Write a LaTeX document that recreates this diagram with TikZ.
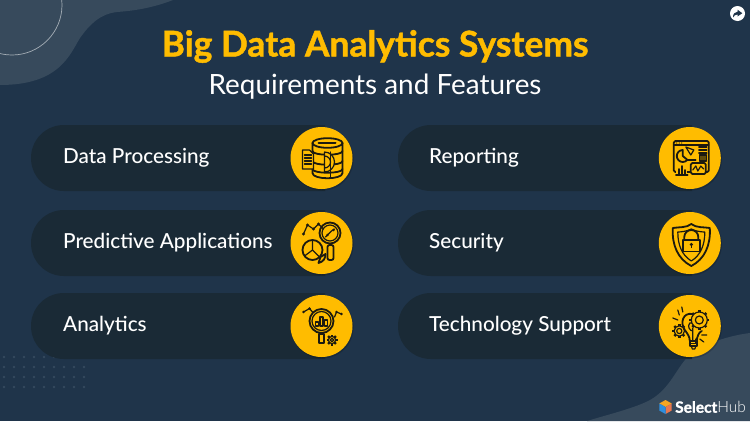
\documentclass[tikz,border=0pt]{standalone}
\usepackage{fontspec}
\setmainfont{Lato}
\newfontfamily\titlefont[FakeBold=1.3]{Lato Bold}
\newfontfamily\labelfont{Lato Medium}
\definecolor{bgc}{HTML}{1F344A}
\definecolor{blobc}{HTML}{374A5C}
\definecolor{pillc}{HTML}{1A2A36}
\definecolor{ambc}{HTML}{FFBC00}
\definecolor{inkc}{HTML}{1C1A10}
\definecolor{dotc}{HTML}{34495E}
\definecolor{logoa}{HTML}{F5A623}
\definecolor{logob}{HTML}{E8774F}
\definecolor{logoc}{HTML}{2D8FE0}
\tikzset{
  x=1pt,y=-1pt,
  label/.style={anchor=west,text=white,font=\labelfont\fontsize{20.7}{24}\selectfont,inner sep=0pt},
  medal/.style={circle,fill=ambc,minimum size=62pt,inner sep=0pt,draw=none},
  ink/.style={draw=inkc,line width=1.2pt,line join=round,line cap=round},
  thick ink/.style={draw=inkc,line width=1.8pt,line join=round,line cap=round},
  blob/.style={fill=blobc,draw=none},
  pics/cog/.style={code={
    \foreach \a in {0,45,...,315}{\draw[inkc,line width=2.4pt] (\a:#1) -- (\a:#1+1.9);}
    \draw[ink,fill=ambc] (0,0) circle[radius=#1];
    \draw[ink] (0,0) circle[radius=#1*0.5];
  }},
}
\begin{document}
\begin{tikzpicture}
\useasboundingbox (0,0) rectangle (750,421);
\fill[bgc] (0,0) rectangle (750,421);
% blobs
\path[blob] (0,0) -- (173,0) .. controls (150,9) and (130,11) .. (117,12)
  .. controls (100,14) and (90,24) .. (80,38) .. controls (70,54) and (60,85) .. (0,85) -- cycle;
\begin{scope}
\clip (0,0) rectangle (750,421);
\draw[white!55!blobc,line width=0.7pt] (12,5) circle[radius=50];
\end{scope}
\path[blob] (750,421) -- (587,421) .. controls (610,414) and (635,408) .. (650,400)
  .. controls (668,390) and (675,372) .. (685,360) .. controls (695,347) and (725,336) .. (750,333) -- cycle;
% dots
\foreach \yy in {357,367,377,387}\foreach \xx in {4,14,...,84}{\fill[dotc] (\xx,\yy) circle[radius=1.3];}
% pills
\foreach \xa/\xb/\ya in {31/325/125,31/325/210,31/325/293,398/692/125,398/692/210,398/692/293}{
  \fill[pillc,rounded corners=32.9pt] (\xb,\ya) -- (\xa,\ya) -- (\xa,\ya+66) [sharp corners] -- (\xb,\ya+66) -- cycle;
}
% text
\node[anchor=center,text=ambc,font=\titlefont\fontsize{35.4}{40}\selectfont,inner sep=0pt] (title) at (375,46.5) {Big Data Analytics Systems};
\node[anchor=center,text=white,font=\fontsize{27.9}{32}\selectfont,inner sep=0pt] (sub) at (375,87) {Requirements and Features};
\node[label] (t1) at (63,158) {Data Processing};
\node[label] (t2) at (63,243) {Predictive Applications};
\node[label] (t3) at (63,326) {Analytics};
\node[label] (t4) at (429,158) {Reporting};
\node[label] (t5) at (429,243) {Security};
\node[label] (t6) at (429,326) {Technology Support};
% medals
\foreach \nm/\cx/\cy in {m1/321.5/158,m2/321.5/243,m3/321.5/326,m4/689.8/158,m5/689.8/243,m6/689.8/326}{
  \fill[black,opacity=.18] (\cx+.8,\cy+1.2) circle[radius=31.3];
  \node[medal] (\nm) at (\cx,\cy) {};
}
% icon 1: database
\begin{scope}[shift={(m1.center)}]
  \draw[thick ink] (-9,-15) -- (-9,15) .. controls (-9,22) and (21,22) .. (21,15) -- (21,-15);
  \draw[thick ink] (6,-15) ellipse[x radius=15,y radius=4.8];
  \draw[ink,line width=2pt] (-3,-15) -- (14,-15);
  \draw[thick ink] (-9,-7) .. controls (-9,-2) and (21,-2) .. (21,-7);
  \draw[thick ink] (-9,3) .. controls (-9,8) and (21,8) .. (21,3);
  \draw[thick ink] (-9,11) .. controls (-9,16) and (21,16) .. (21,11);
  \draw[ink,fill=ambc] (3,-6) arc[start angle=-90,end angle=90,radius=10] -- cycle;
  \draw[ink] (3,-2) arc[start angle=-90,end angle=90,radius=6];
  \draw[ink,line width=1.3pt] (9,-6) -- (9,20);
  \draw[ink,fill=ambc] (-19,-8) -- (-12,-8) -- (-8,-4) -- (-8,11) -- (-19,11) -- cycle;
  \foreach \yy in {-3,0,3,6}{\draw[ink] (-17,\yy) -- (-10,\yy);}
\end{scope}
% icon 2: predictive
\begin{scope}[shift={(m2.center)}]
  \draw[ink] (-18,-9) -- (-14,-18) -- (-8,-14) -- (-3,-19) -- (2,-14);
  \foreach \p in {(-18,-9),(-14,-18),(-8,-14),(-3,-19)}{\fill[inkc] \p circle[radius=1.6];}
  \draw[thick ink] (8.5,-10) circle[radius=10.5];
  \draw[ink] (8.5,-10) circle[radius=8];
  \draw[ink] (4,-6) -- (10,-12) -- (13,-14);
  \fill[inkc] (6,-8) circle[radius=1.3] (12,-13) circle[radius=1.3];
  \draw[thick ink,rounded corners=2pt] (6,2) rectangle (12,17);
  \draw[thick ink] (-9,7) circle[radius=10];
  \draw[ink] (-9,7) -- (-9,-3) (-9,7) -- (-17,13) (-9,7) -- (-2,14);
  \draw[thick ink] (-1,14) -- (4,11) .. controls (4,15) and (2,19) .. (-3,20) -- cycle;
\end{scope}
% icon 3: analytics
\begin{scope}[shift={(m3.center)}]
  \draw[thick ink] (0,-5) circle[radius=12];
  \draw[ink] (0,-5) circle[radius=9.5];
  \draw[ink] (-6,0) rectangle (-3,-4) (-1.5,0) rectangle (1.5,-9) (3,0) rectangle (6,-6);
  \draw[thick ink] (-2.5,8) rectangle (2.5,17);
  \draw[ink] (0,7) -- (0,8);
  \draw[ink] (-18,-14) -- (-12,-17.5) -- (-9,-14) ;
  \draw[ink] (13,-9) -- (15,-14) -- (20,-12);
  \fill[inkc] (-18,-14) circle[radius=1.3] (-12,-17.5) circle[radius=1.3] (15,-14) circle[radius=1.3] (20,-12) circle[radius=1.3];
  \pic at (10.5,14) {cog=3.6};
\end{scope}
% icon 4: reporting
\begin{scope}[shift={(m4.center)}]
  \draw[thick ink,rounded corners=1.5pt] (-16,-17) rectangle (19,14);
  \draw[ink] (-16,-13) -- (19,-13);
  \fill[inkc] (-13,-15) circle[radius=.6] (-10.5,-15) circle[radius=.6] (-8,-15) circle[radius=.6];
  \draw[thick ink,fill=ambc] (-7,-8) arc[start angle=-90,end angle=-320,radius=6] -- (-7,-2) -- cycle;
  \draw[ink,fill=ambc] (-4,-11) -- (4,-8) -- (1,-3) -- cycle;
  \draw[ink] (9,-11) -- (17,-11) (9,-8) -- (17,-8) (9,-5) -- (17,-5);
  \draw[ink,fill=inkc!70!ambc] (10,-3) rectangle (17,3);
  \draw[ink] (-3,2) -- (6,2);
  \draw[thick ink,fill=ambc,rounded corners=1.5pt] (1,5) rectangle (16,16);
  \draw[ink] (3,12) -- (6,8) -- (8,13) -- (11,8) -- (14,11);
  \fill[ambc] (-14,13) rectangle (-3,17);
  \draw[thick ink] (-11,17) -- (-11,11) (-8,17) -- (-8,8) (-5,17) -- (-5,12);
  \draw[ink] (-14,17) -- (-2,17);
\end{scope}
% icon 5: security
\begin{scope}[shift={(m5.center)}]
  \draw[thick ink] (1.5,-19) .. controls (-3,-15) and (-12,-16) .. (-17,-15)
    .. controls (-18,2) and (-12,16) .. (1.5,23) .. controls (15,16) and (21,2) .. (20,-15)
    .. controls (15,-16) and (6,-15) .. (1.5,-19) -- cycle;
  \draw[ink,line width=1.2pt] (1.5,-14) .. controls (-2,-12) and (-8,-11) .. (-12,-11)
    .. controls (-12,2) and (-8,12) .. (1.5,18) .. controls (11,12) and (15,2) .. (15,-11)
    .. controls (11,-11) and (5,-12) .. (1.5,-14) -- cycle;
  \draw[thick ink] (-5.5,-3) -- (-5.5,-6) arc[start angle=180,end angle=360,radius=7] -- (8.5,-3);
  \draw[thick ink,fill=ambc] (-7,-3) rectangle (10,8.5);
  \fill[inkc] (1.5,1.5) circle[radius=1.8];
  \draw[inkc,line width=1.1pt] (1.5,1.5) -- (1.5,5);
\end{scope}
% icon 6: technology
\begin{scope}[shift={(m6.center)}]
  \draw[thick ink] (3,-12) .. controls (-7,-14) and (-10,-3) .. (-5,4) .. controls (-2,8) and (0,11) .. (0,15)
     -- (7,15) .. controls (7,11) and (9,6) .. (12,5);
  \draw[thick ink] (0,15) -- (0,20) -- (7,20) -- (7,15) (0,17.5) -- (7,17.5);
  \draw[ink] (1.5,20) -- (2.5,23) -- (5,23) -- (6,20);
  \draw[ink] (3,15) -- (3,2) (6,-3) -- (0,-3) .. controls (-3,0) and (0,5) .. (3,5);
  \pic at (9.5,-6) {cog=8};
  \pic at (-10.5,5) {cog=5.2};
  \draw[ink] (-12,-16) -- (-10.5,-11) (-17,-8) -- (-12,-6) (-8,-19) -- (-7,-14);
  \draw[ink] (12,9) -- (17,9) (10,13) -- (14,16) (6,13) -- (6,17);
\end{scope}
% share badge
\node[circle,fill=white,minimum size=15pt,inner sep=0pt] (share) at (737.5,13.5) {};
\fill[bgc] (737.5,9.7) -- (742.3,13.2) -- (737.5,16.5) -- (737.5,14.5) .. controls (735.5,14.5) and (734,15.5) .. (733,17.5)
  .. controls (733,14) and (734.5,12) .. (737.5,11.7) -- cycle;
% logo
\begin{scope}[shift={(665.5,407)}]
  \fill[logoa] (0,-7) -- (6.2,-3.5) -- (0,0) -- (-6.2,-3.5) -- cycle;
  \fill[logob] (6.2,-3.5) -- (6.2,3.5) -- (0,7) -- (0,0) -- cycle;
  \fill[logoc] (-6.2,-3.5) -- (0,0) -- (0,7) -- (-6.2,3.5) -- cycle;
\end{scope}
\node[anchor=west,text=white,inner sep=0pt,font=\fontsize{15.5}{18}\selectfont] (logo) at (675,407) {{\titlefont Select}{\fontspec{Lato Light}Hub}};
\end{tikzpicture}
\end{document}
